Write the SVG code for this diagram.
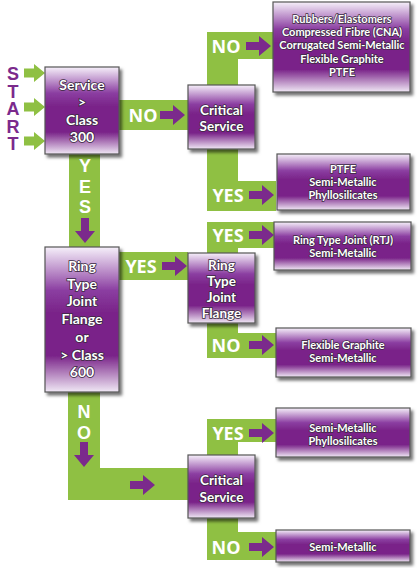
<svg xmlns="http://www.w3.org/2000/svg" width="420" height="568" viewBox="0 0 420 568">
<defs>
<linearGradient id="pg" x1="0" y1="0" x2="0" y2="1">
<stop offset="0" stop-color="#f6f0fa"/>
<stop offset="0.3" stop-color="#8b3ea1"/>
<stop offset="0.45" stop-color="#7a2489"/>
<stop offset="0.75" stop-color="#7a2489"/>
<stop offset="1" stop-color="#f0e8f5"/>
</linearGradient>
<filter id="sh" x="-10%" y="-10%" width="130%" height="130%">
<feDropShadow dx="2.5" dy="3" stdDeviation="1.5" flood-color="#000" flood-opacity="0.55"/>
</filter>
<path id="pa" d="M0,-4 H13 V-10 L25,0 L13,10 V4 H0 Z" fill="#7b2a8c"/>
<path id="ga" d="M0,-4.5 H10 V-9 L21,0 L10,9 V4.5 H0 Z" fill="#8fc043"/>
</defs>
<style>
.box{fill:url(#pg);stroke:#555;stroke-width:1.2;filter:url(#sh)}
.bt{font-family:Lato,"Open Sans",sans-serif;font-weight:700;fill:#fff;stroke:#3a2a40;stroke-width:1.6;paint-order:stroke;text-anchor:middle}
.big{font-size:13.5px}
.big2{font-size:14px}
.sm{font-size:11px;stroke-width:1.4}
.gl{font-family:"Open Sans","Noto Sans",sans-serif;font-weight:700;font-size:18px;fill:#fff;text-anchor:middle}
.gv{font-family:"Liberation Sans",Arial,sans-serif;font-weight:700;font-size:18px;fill:#fff;writing-mode:vertical-rl;text-orientation:upright;letter-spacing:0.5px}
.st{font-family:"Liberation Sans",Arial,sans-serif;font-weight:700;font-size:18px;fill:#7b2a8c;writing-mode:vertical-rl;text-orientation:upright;letter-spacing:-2.4px}
.band{fill:#8fc043}
</style>
<g id="connectors">
<rect class="band" x="119" y="100" width="69" height="30"/>
<rect class="band" x="207" y="32" width="31" height="179"/>
<rect class="band" x="207" y="32" width="66" height="27"/>
<rect class="band" x="207" y="181" width="69" height="30"/>
<rect class="band" x="69" y="154" width="31" height="93"/>
<rect class="band" x="119" y="252" width="69" height="28"/>
<rect class="band" x="207" y="222" width="31" height="136"/>
<rect class="band" x="207" y="222" width="67" height="26"/>
<rect class="band" x="207" y="333" width="69" height="25"/>
<rect class="band" x="68" y="392" width="32" height="108"/>
<rect class="band" x="68" y="468" width="120" height="32"/>
<rect class="band" x="207" y="419" width="31" height="141"/>
<rect class="band" x="207" y="419" width="69" height="23"/>
<rect class="band" x="207" y="532" width="69" height="28"/>
<use href="#ga" x="24" y="73"/>
<use href="#ga" x="24" y="107"/>
<use href="#ga" x="24" y="141"/>
<text class="gl" x="143" y="122">NO</text>
<use href="#pa" x="160" y="115"/>
<text class="gl" x="226" y="53">NO</text>
<use href="#pa" x="246" y="46"/>
<text class="gl" x="228" y="202">YES</text>
<use href="#pa" x="249" y="195"/>
<text class="gv" x="85" y="156">YES</text>
<use href="#pa" transform="translate(85,218) rotate(90)"/>
<text class="gl" x="141" y="273">YES</text>
<use href="#pa" x="162" y="266"/>
<text class="gl" x="228" y="242">YES</text>
<use href="#pa" x="249" y="235"/>
<text class="gl" x="226" y="352">NO</text>
<use href="#pa" x="249" y="345"/>
<text class="gv" x="84" y="402">NO</text>
<use href="#pa" transform="translate(84,442) rotate(90)"/>
<use href="#pa" x="130" y="485"/>
<text class="gl" x="228" y="440">YES</text>
<use href="#pa" x="249" y="433"/>
<text class="gl" x="226" y="554">NO</text>
<use href="#pa" x="249" y="547"/>
</g>
<g id="start">
<text class="st" x="13" y="64">START</text>
</g>
<g id="service">
<rect class="box" x="45" y="67" width="74" height="87"/>
<text class="bt big2"><tspan x="82" y="90">Service</tspan><tspan x="82" y="107">&gt;</tspan><tspan x="82" y="125">Class</tspan><tspan x="82" y="142">300</tspan></text>
</g>
<g id="critical1">
<rect class="box" x="188" y="85" width="67" height="64"/>
<text class="bt big"><tspan x="221.5" y="115">Critical</tspan><tspan x="221.5" y="131">Service</tspan></text>
</g>
<g id="res1">
<rect class="box" x="273" y="2" width="137" height="90"/>
<text class="bt sm"><tspan x="342" y="22.5">Rubbers/Elastomers</tspan><tspan x="342" y="35.9">Compressed Fibre (CNA)</tspan><tspan x="342" y="49.3">Corrugated Semi-Metallic</tspan><tspan x="342" y="62.7">Flexible Graphite</tspan><tspan x="342" y="76.1">PTFE</tspan></text>
</g>
<g id="res2">
<rect class="box" x="277" y="154" width="133" height="56"/>
<text class="bt sm"><tspan x="343" y="172.6">PTFE</tspan><tspan x="343" y="186">Semi-Metallic</tspan><tspan x="343" y="199.4">Phyllosilicates</tspan></text>
</g>
<g id="ringflange">
<rect class="box" x="45" y="247" width="74" height="145"/>
<text class="bt big2"><tspan x="82" y="271">Ring</tspan><tspan x="82" y="289">Type</tspan><tspan x="82" y="306">Joint</tspan><tspan x="82" y="324">Flange</tspan><tspan x="82" y="342">or</tspan><tspan x="82" y="360">&gt; Class</tspan><tspan x="82" y="377">600</tspan></text>
</g>
<g id="ring2">
<rect class="box" x="188" y="253" width="67" height="70"/>
<text class="bt big"><tspan x="221.5" y="270">Ring</tspan><tspan x="221.5" y="286">Type</tspan><tspan x="221.5" y="302">Joint</tspan><tspan x="221.5" y="318">Flange</tspan></text>
</g>
<g id="res3">
<rect class="box" x="274" y="222" width="137" height="48"/>
<text class="bt sm"><tspan x="343" y="243.5">Ring Type Joint (RTJ)</tspan><tspan x="343" y="257">Semi-Metallic</tspan></text>
</g>
<g id="res4">
<rect class="box" x="276" y="328" width="135" height="49"/>
<text class="bt sm"><tspan x="343" y="348.5">Flexible Graphite</tspan><tspan x="343" y="362">Semi-Metallic</tspan></text>
</g>
<g id="critical3">
<rect class="box" x="188" y="455" width="67" height="63"/>
<text class="bt big"><tspan x="221.5" y="485">Critical</tspan><tspan x="221.5" y="502">Service</tspan></text>
</g>
<g id="res5">
<rect class="box" x="276" y="408" width="134" height="49"/>
<text class="bt sm"><tspan x="343" y="431.5">Semi-Metallic</tspan><tspan x="343" y="445">Phyllosilicates</tspan></text>
</g>
<g id="res6">
<rect class="box" x="276" y="530" width="134" height="32"/>
<text class="bt sm" x="343" y="551">Semi-Metallic</text>
</g>
</svg>
